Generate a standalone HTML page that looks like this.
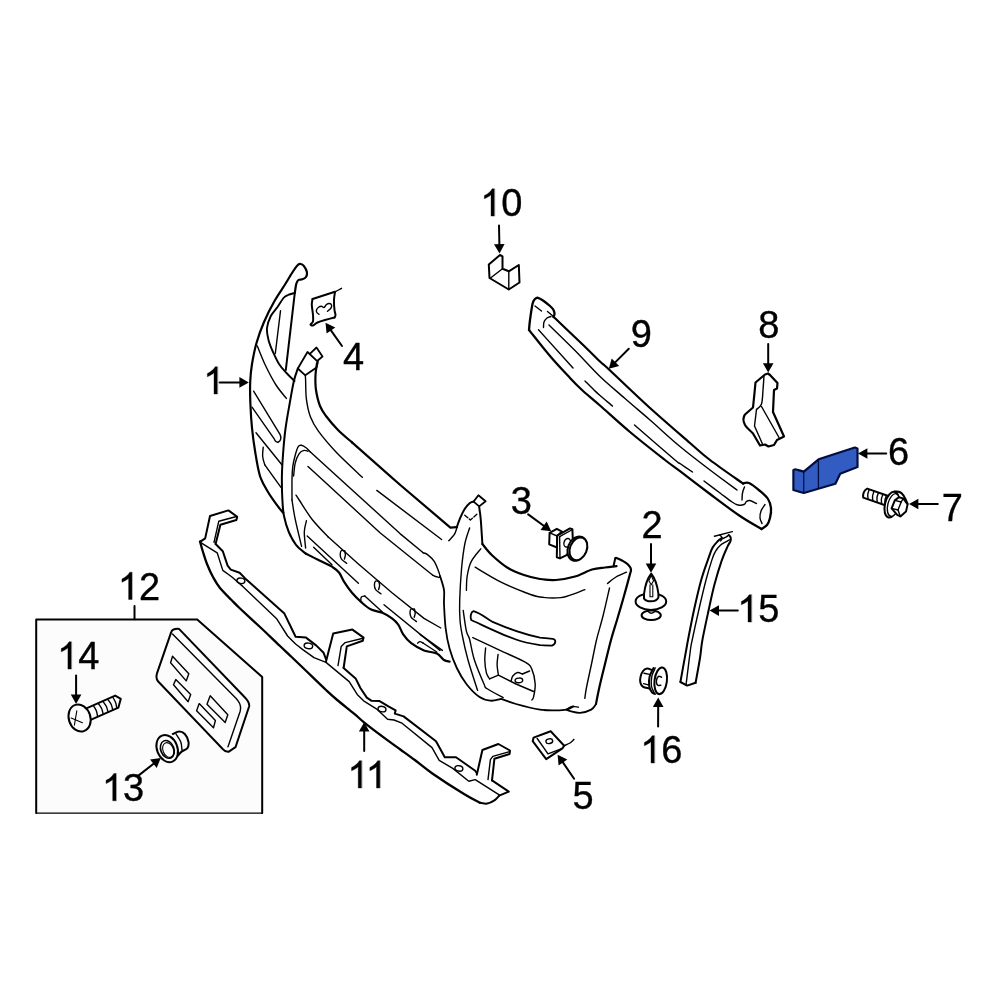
<!DOCTYPE html>
<html><head><meta charset="utf-8"><title>Bumper parts diagram</title>
<style>
html,body{margin:0;padding:0;background:#fff;}
body{width:1000px;height:1000px;overflow:hidden;font-family:"Liberation Sans",sans-serif;}
svg{display:block;}
svg text{font-family:"Liberation Sans",sans-serif;fill:#000;stroke:#000;stroke-width:0.35px;}
svg path,svg ellipse{stroke-linejoin:round;stroke-linecap:round;}
</style></head><body>
<svg width="1000" height="1000" viewBox="0 0 1000 1000">
<defs><filter id="soft" x="0" y="0" width="1000" height="1000" filterUnits="userSpaceOnUse"><feGaussianBlur stdDeviation="0.35"/></filter></defs>
<rect width="1000" height="1000" fill="#fff"/>
<g filter="url(#soft)">
<g id="parts">
<path d="M36.2 813.1 L36.2 619.6 L197.2 619.6 L262.2 677 L262.2 813.1" fill="#fcfcfc" stroke="#000" stroke-width="2" stroke-linejoin="miter" stroke-linecap="square"/>
<path d="M36.2 813.1 L262.2 813.1" fill="none" stroke="#000" stroke-width="1.4" stroke-linecap="square"/>
<path d="M500 255 L488.8 264.5 L489.5 278 L508.8 289.5 L519.5 282.5 L518.8 265 L508.8 271.3 L502.5 268.8 L502.5 256.3Z" fill="none" stroke="#000" stroke-width="2"/>
<path d="M502.5 268.8 L490.5 278" fill="none" stroke="#000" stroke-width="1.4"/>
<path d="M508.8 271.3 L508.8 289.5" fill="none" stroke="#000" stroke-width="1.4"/>
<path d="M793.4 470 L795.4 469.3 L803.8 471.6 L818.6 459.3 L854.8 447.5 L857.5 448.5 L857.5 466.9 L840.2 473.8 L835.4 483.8 L803.8 493 L793.4 490Z" fill="#335bc2" stroke="#06103f" stroke-width="2.2"/>
<path d="M803.7 471.8 L803.7 492.8" fill="none" stroke="#06103f" stroke-width="1.3"/>
<path d="M818.4 459.8 L818.4 488.2" fill="none" stroke="#06103f" stroke-width="1.3"/>
<path d="M768 373.5 L765 374.5 L755.5 382.5 L754.5 393 L753 407.5 L745 414.5 C743.2 417 743.2 421.5 745 425 C747 428.5 750.5 430.5 753 433.5 L760 445.5 L765 444.5 L768.5 446.5 L774 445 L777 440 L784 436.5 L773 412 L774 390 L777 388.5 L777.5 383 L770 375 Z" fill="none" stroke="#000" stroke-width="2.2"/>
<path d="M764 376 C763.8 378.3 763.4 385.3 763 390 C762.6 394.7 762.6 400.8 761.5 404 C760.4 407.2 757.3 408.6 756.5 409.5" fill="none" stroke="#000" stroke-width="1.4"/>
<path d="M756.5 409.5 L754.5 426 L762.5 444" fill="none" stroke="#000" stroke-width="1.4"/>
<path d="M761.5 406.5 L779 437.5" fill="none" stroke="#000" stroke-width="1.4"/>
<path d="M529 330 C529.2 328.3 529.4 324.3 530 320 C530.6 315.7 531.7 307.5 532.5 304 C533.3 300.5 534.1 300 535 299 C535.9 298 536.7 297.6 538 297.8 C539.3 298.1 541 299.1 543 300.5 C545 301.9 548.2 304.4 550 306 C551.8 307.6 552.8 308.7 553.5 310 C554.2 311.3 554.5 312.8 554.5 314 C554.5 315.2 553.7 316.5 553.5 317" fill="none" stroke="#000" stroke-width="2.3"/>
<path d="M553.5 316.8 C557.9 321 572.2 334.6 580 342 C587.8 349.4 595.2 356.9 600 361.5 C604.8 366.1 600.7 361.8 609 369.5 C617.3 377.2 636.5 395.8 650 408 C663.5 420.2 680 434.3 690 443 C700 451.7 701.2 453.2 710 460 C718.8 466.8 737.5 479.6 743 483.5" fill="none" stroke="#000" stroke-width="2.2"/>
<path d="M743 483.5 C744 483.4 746.2 481.8 749 483 C751.8 484.2 756.8 488.3 760 491 C763.2 493.7 766.2 496.2 768 499 C769.8 501.8 770.7 504.8 771 508 C771.3 511.2 770.7 515.2 770 518 C769.3 520.8 768.4 523.2 767 525 C765.6 526.8 762.4 528.3 761.5 529" fill="none" stroke="#000" stroke-width="2.3"/>
<path d="M529 330 C532.5 334.3 543.2 348 550 356 C556.8 364 564.7 372.3 570 378 C575.3 383.7 577 385.4 582 390 C587 394.6 592 398.5 600 405.5 C608 412.5 619.2 422.9 630 432 C640.8 441.1 656.7 453.5 665 460 C673.3 466.5 672.5 465.5 680 471.2 C687.5 476.9 700 486.5 710 494 C720 501.5 731.4 510.2 740 516 C748.6 521.8 757.9 526.8 761.5 529" fill="none" stroke="#000" stroke-width="2.2"/>
<path d="M549 325 C553.3 329.2 566.5 341.9 575 350.5 C583.5 359.1 591.7 368.5 600 376.5 C608.3 384.5 616.7 391.2 625 398.5 C633.3 405.8 640.8 412 650 420 C659.2 428 670 438.2 680 446.5 C690 454.8 700.5 462.8 710 470 C719.5 477.2 732.5 486.7 737 490" fill="none" stroke="#000" stroke-width="1.4"/>
<path d="M538.5 329.8 L573 368" fill="none" stroke="#000" stroke-width="1.4"/>
<path d="M585 381 C586.5 382.5 591.5 387.6 594 390 C596.5 392.4 596.9 392.8 600 395.5 C603.1 398.2 610.4 404.2 612.5 406" fill="none" stroke="#000" stroke-width="1.4"/>
<path d="M634.5 425 C641.2 430.8 667.4 453.6 675 460 C682.6 466.4 677.1 461.5 680 463.5 C682.9 465.5 690.4 470.6 692.5 472" fill="none" stroke="#000" stroke-width="1.4"/>
<path d="M704 481 C706.7 483 715.3 489.5 720 493 C724.7 496.5 729 500 732 502 C735 504 736 504.6 738 505 C740 505.4 742.6 505.1 744 504.5 C745.4 503.9 745.5 502.2 746.5 501.5 C747.5 500.8 748.3 500.2 750 500.5 C751.7 500.8 755.4 503 756.5 503.5" fill="none" stroke="#000" stroke-width="1.4"/>
<path d="M744.5 487 C744.2 488 742.9 490.8 742.5 493 C742.1 495.2 742.1 498.8 742 500" fill="none" stroke="#000" stroke-width="1.4"/>
<path d="M765 504.5 C764.3 505.6 761.8 508.8 761 511 C760.2 513.2 759.8 515.9 760 518 C760.2 520.1 761.7 522.6 762 523.5" fill="none" stroke="#000" stroke-width="1.4"/>
<path d="M535 306 L541.5 311" fill="none" stroke="#000" stroke-width="1.4"/>
<path d="M547.5 311.5 L553.5 316.5" fill="none" stroke="#000" stroke-width="1.4"/>
<path d="M551 316.5 C550.3 316.8 548.2 317.1 547 318 C545.8 318.9 544.6 320.4 544 322 C543.4 323.6 543.6 326.6 543.5 327.5" fill="none" stroke="#000" stroke-width="1.4"/>
<path d="M721.6 538 C721 538.5 719.5 539.4 718 541 C716.5 542.6 714.2 544.7 712.6 547.6 C711 550.5 710.3 553 708.4 558.4 C706.5 563.8 703.6 571.4 701.2 580 C698.8 588.6 696.2 600 694 610 C691.8 620 689.3 633.3 688 640 C686.7 646.7 687.5 643 686.2 650 C684.9 657 681.4 676.7 680.4 682" fill="none" stroke="#000" stroke-width="2"/>
<path d="M680.4 682 L687.2 685.6 L695.6 682.8" fill="none" stroke="#000" stroke-width="2"/>
<path d="M728.8 535 C729.1 535.4 730.3 536.4 730.6 537.4 C730.9 538.4 731.1 539.5 730.6 541 C730.1 542.5 729.1 543.1 727.6 546.4 C726.1 549.7 723.8 554.4 721.6 560.8 C719.4 567.2 716.6 576.4 714.4 584.8 C712.2 593.2 710.4 602 708.4 611.2 C706.4 620.4 703.8 632.2 702.4 640 C701 647.8 701.1 650.9 700 658 C698.9 665.1 696.3 678.7 695.6 682.8" fill="none" stroke="#000" stroke-width="2"/>
<path d="M729.4 539.8 C728.9 540.1 727.9 540.7 726.4 541.6 C724.9 542.5 722.2 543.6 720.4 545.2 C718.6 546.8 717 548.8 715.6 551.2 C714.2 553.6 713.6 554.8 712 559.6 C710.4 564.4 708.2 571.6 706 580 C703.8 588.4 701.1 600 698.8 610 C696.5 620 693.6 633.3 692.2 640 C690.8 646.7 691.4 642.5 690.4 650 C689.4 657.5 686.7 679.3 686 685.2" fill="none" stroke="#000" stroke-width="1.4"/>
<path d="M714.4 536.2 L732.4 531.6" fill="none" stroke="#000" stroke-width="1.4"/>
<path d="M719.8 535 C720.2 535.5 722.1 537 722.2 538 C722.3 539 720.8 540.5 720.5 541" fill="none" stroke="#000" stroke-width="1.4"/>
<path d="M722.8 538.6 C723.4 538.3 725.4 537.4 726.4 536.8 C727.4 536.2 728.4 535.3 728.8 535" fill="none" stroke="#000" stroke-width="1.4"/>
<path d="M533.6 737.6 L550.7 731.3 L564.2 745.7 L562.4 748.4 L546.2 759.2 L532.7 741.2Z" fill="none" stroke="#000" stroke-width="2"/>
<path d="M537.2 738.5 L548 753.8 L562.4 748.4" fill="none" stroke="#000" stroke-width="1.4"/>
<ellipse cx="549.3" cy="741.2" rx="3.4" ry="2.3" transform="rotate(-10 549.3 741.2)" fill="none" stroke="#000" stroke-width="1.4"/>
<path d="M564.2 745.7 C565.2 745.2 568.4 744 570 743 C571.6 742 573.3 740 574 739.4" fill="none" stroke="#000" stroke-width="1.4"/>
<path d="M312.5 299 L335 291.8" fill="none" stroke="#000" stroke-width="2"/>
<path d="M335 292 C334.8 293.3 334.1 297 334 300 C333.9 303 334.2 307.5 334.5 310 C334.8 312.5 335.5 313.8 335.5 315 C335.5 316.2 334.7 317.1 334.5 317.5" fill="none" stroke="#000" stroke-width="2"/>
<path d="M334.5 317.5 C332.9 317.9 327.8 319.2 325 320 C322.2 320.8 319.5 321.6 317.5 322.5 C315.5 323.4 314.2 325.2 313 325.5 C311.8 325.8 310.5 325.2 310.5 324.5 C310.5 323.8 312.6 323.1 313 321.5 C313.4 319.9 313.2 317.8 313 315 C312.8 312.2 311.9 307.7 311.8 305 C311.7 302.3 312.4 300 312.5 299" fill="none" stroke="#000" stroke-width="2"/>
<path d="M335 291.8 C335.6 291.5 337.4 290.6 338.5 290 C339.6 289.4 341 288.6 341.5 288.3" fill="none" stroke="#000" stroke-width="1.4"/>
<path d="M319 314.3 C318.6 314 317.2 313.2 316.8 312.5 C316.4 311.8 316.2 310.9 316.5 310 C316.8 309.1 317.7 307.9 318.5 307.3 C319.3 306.7 320.6 306.3 321.5 306.3 C322.4 306.3 323.2 307.8 324 307.5 C324.8 307.2 325.6 305.2 326.5 304.5 C327.4 303.8 328.7 303.4 329.5 303.5 C330.3 303.6 331.2 304.2 331.5 305 C331.8 305.8 331.7 306.9 331 308 C330.3 309.1 328.1 310.8 327.5 311.3" fill="none" stroke="#000" stroke-width="1.4"/>
<path d="M549.6 532.8 L556.8 528.8 L562 531.6 L557.2 536 L557 547.5 L549.2 544.4Z" fill="none" stroke="#000" stroke-width="2"/>
<path d="M549.6 532.8 L557.2 536" fill="none" stroke="#000" stroke-width="1.4"/>
<path d="M557.2 535.6 L570 528.4 L572.4 529.2 L572.8 540 L567 554.8 L560 558.4 L556.8 557.2Z" fill="#fff" stroke="#000" stroke-width="2"/>
<path d="M559.6 536.6 L571.6 530" fill="none" stroke="#000" stroke-width="1.4"/>
<path d="M559.6 536.6 L560 558" fill="none" stroke="#000" stroke-width="1.4"/>
<ellipse cx="567.2" cy="542.8" rx="3.2" ry="4.4" transform="rotate(15 567.2 542.8)" fill="#fff" stroke="#000" stroke-width="1.4"/>
<ellipse cx="577.2" cy="548.6" rx="9.2" ry="12.6" transform="rotate(22 577.2 548.6)" fill="#fff" stroke="#000" stroke-width="2"/>
<ellipse cx="578.4" cy="548.8" rx="8.4" ry="11.8" transform="rotate(22 578.4 548.8)" fill="#fff" stroke="#000" stroke-width="2"/>
<ellipse cx="651.2" cy="615.2" rx="9.6" ry="4.8" transform="rotate(0 651.2 615.2)" fill="#fff" stroke="#000" stroke-width="2"/>
<ellipse cx="650.9" cy="601.6" rx="15.3" ry="8.3" transform="rotate(0 650.9 601.6)" fill="#fff" stroke="#000" stroke-width="2"/>
<path d="M647.6 611.2 C648.2 611.5 649.8 613.2 651.2 613.2 C652.6 613.2 655.2 611.5 656 611.2" fill="none" stroke="#000" stroke-width="1.4"/>
<path d="M651.2 573.6 C647.6 578 645 586 644 594 L644 598.4 C646 602 656 602.8 658.4 597.6 L658.4 593.6 C657.4 586 654.8 578 651.2 573.6Z" fill="#fff" stroke="#000" stroke-width="2"/>
<path d="M651.2 575.6 L648.8 580.8 L651.2 584.8 L653.6 580.8Z" fill="none" stroke="#000" stroke-width="1.1"/>
<path d="M650 584.8 L650 596.8 L652.8 596.8 L652.8 584.8" fill="none" stroke="#000" stroke-width="1.1"/>
<path d="M652 670 C651.2 669.8 648.7 668.5 647.2 668.6 C645.7 668.7 644.3 669.5 643.2 670.8 C642.1 672.1 641.1 674.4 640.6 676.4 C640.1 678.4 640 681.1 640.4 682.8 C640.8 684.5 641.8 685.9 643.2 686.8 C644.6 687.7 647.9 688.1 648.8 688.4" fill="none" stroke="#000" stroke-width="2"/>
<path d="M644 673.2 L649.6 674.4" fill="none" stroke="#000" stroke-width="1.4"/>
<path d="M643.6 683.6 L649.2 685.2" fill="none" stroke="#000" stroke-width="1.4"/>
<path d="M653.6 668 C652.9 669.4 650.3 673.4 649.6 676.4 C648.9 679.4 648.8 683.3 649.2 686 C649.6 688.7 651 691.1 652 692.4 C653 693.7 654.5 693.7 655 694" fill="none" stroke="#000" stroke-width="2"/>
<path d="M655.2 668 C654.6 669.4 652.4 673.4 651.8 676.4 C651.2 679.4 651 683.2 651.4 686 C651.8 688.8 653.9 692 654.4 693.2" fill="none" stroke="#000" stroke-width="1.4"/>
<ellipse cx="660.7" cy="680.8" rx="6.2" ry="13.4" transform="rotate(7 660.7 680.8)" fill="#fff" stroke="#000" stroke-width="2"/>
<path d="M661.6 677.2 C661.1 677.1 659.3 675.7 658.4 676.4 C657.5 677.1 656.5 679.7 656.4 681.2 C656.3 682.7 656.9 684.5 657.6 685.2 C658.3 685.9 660.3 685.2 660.8 685.2" fill="none" stroke="#000" stroke-width="1.4"/>
<path d="M888.4 496 L867.2 488.6 C864 490 862.6 494.5 863.2 497.6 L885.2 505.2" fill="#fff" stroke="#000" stroke-width="2"/>
<path d="M869.2 489.6 C869 490.4 868 492.7 867.8 494.2 C867.6 495.7 868 498 868 498.8" fill="none" stroke="#000" stroke-width="1.4"/>
<path d="M874 491.2 C873.8 492 872.8 494.4 872.6 496 C872.4 497.6 872.8 500 872.8 500.8" fill="none" stroke="#000" stroke-width="1.4"/>
<path d="M878.4 492.8 C878.2 493.6 877.2 495.9 877 497.4 C876.8 498.9 877.2 501.2 877.2 502" fill="none" stroke="#000" stroke-width="1.4"/>
<path d="M882.8 494.4 C882.6 495.2 881.6 497.5 881.4 499 C881.2 500.5 881.6 502.8 881.6 503.6" fill="none" stroke="#000" stroke-width="1.4"/>
<path d="M886.4 495.6 C886.2 496.4 885.2 498.7 885 500.2 C884.8 501.7 885.2 504 885.2 504.8" fill="none" stroke="#000" stroke-width="1.4"/>
<ellipse cx="891.6" cy="504.6" rx="6.6" ry="13.2" transform="rotate(14 891.6 504.6)" fill="#fff" stroke="#000" stroke-width="2"/>
<ellipse cx="893.4" cy="505" rx="5.6" ry="11.6" transform="rotate(14 893.4 505)" fill="#fff" stroke="#000" stroke-width="1.4"/>
<path d="M894.8 491.6 C895.6 491.7 898.1 491.3 899.6 492 C901.1 492.7 902.3 493.7 903.6 495.6 C904.9 497.5 906.9 502.3 907.6 503.6" fill="none" stroke="#000" stroke-width="2"/>
<path d="M894.8 500.4 L898.8 497.2 L903.2 498.4 L907.6 504.4 L906 511.6 L900.4 516.4 L897.2 514.8 L891.6 508.4Z" fill="#fff" stroke="#000" stroke-width="2"/>
<path d="M894.8 500.4 L901.2 502 L903.2 498.4" fill="none" stroke="#000" stroke-width="1.4"/>
<path d="M901.2 502 L898 510 L891.6 508.4" fill="none" stroke="#000" stroke-width="1.4"/>
<path d="M898 510 L900.4 516.4" fill="none" stroke="#000" stroke-width="1.4"/>
<path d="M86.4 708.4 L115.2 695.6 L120.8 698.8 L118.4 707.6 L91.2 719.6" fill="#fcfcfc" stroke="#000" stroke-width="2"/>
<path d="M93.6 706 C94.1 706.8 95.7 709.2 96.4 710.9 C97.1 712.6 97.4 715.5 97.6 716.4" fill="none" stroke="#000" stroke-width="1.4"/>
<path d="M98.4 703.6 C98.9 704.4 100.8 706.8 101.6 708.5 C102.4 710.2 102.9 713.1 103.2 714" fill="none" stroke="#000" stroke-width="1.4"/>
<path d="M103.2 701.7 C103.7 702.5 105.6 704.8 106.4 706.5 C107.2 708.2 107.7 711 108 711.9" fill="none" stroke="#000" stroke-width="1.4"/>
<path d="M108 699.6 C108.5 700.4 110.4 702.8 111.2 704.5 C112 706.2 112.5 709.1 112.8 710" fill="none" stroke="#000" stroke-width="1.4"/>
<path d="M112.8 697.2 C113.3 698.1 114.9 700.6 115.6 702.5 C116.3 704.4 116.6 707.4 116.8 708.4" fill="none" stroke="#000" stroke-width="1.4"/>
<ellipse cx="79.6" cy="718" rx="10.8" ry="13.8" transform="rotate(-18 79.6 718)" fill="#fcfcfc" stroke="#000" stroke-width="2"/>
<path d="M76.8 710.8 L74.4 725.2" fill="none" stroke="#000" stroke-width="1.1"/>
<path d="M71.2 718 L82.4 722.8" fill="none" stroke="#000" stroke-width="1.1"/>
<path d="M172.8 734 C173.9 733.6 177.2 731.6 179.2 731.6 C181.2 731.6 183.2 732.3 184.8 734 C186.4 735.7 188.1 739.6 188.5 742 C188.9 744.4 188.3 746.8 187.2 748.4 C186 750 183.2 750.3 181.6 751.6 C180 752.9 178.3 755.3 177.6 756" fill="none" stroke="#000" stroke-width="2"/>
<path d="M176 734 C176.8 735.3 179.8 739.3 180.8 742 C181.8 744.7 181.8 748.7 182 750" fill="none" stroke="#000" stroke-width="1.4"/>
<ellipse cx="167.2" cy="748.6" rx="10.2" ry="14" transform="rotate(-22 167.2 748.6)" fill="#fcfcfc" stroke="#000" stroke-width="2"/>
<ellipse cx="167.4" cy="749.4" rx="6.6" ry="9.2" transform="rotate(-22 167.4 749.4)" fill="#fcfcfc" stroke="#000" stroke-width="1.6"/>
<ellipse cx="168.2" cy="750" rx="5.2" ry="7.6" transform="rotate(-22 168.2 750)" fill="none" stroke="#000" stroke-width="1.1"/>
<path d="M171.2 632.1 C172 629.5 174 628.6 179 628.9 L244 696.5 C248.6 701 249.6 703 249.2 706.2 L235.5 747.2 L228.5 751.8 C226 752 224 750.5 222.5 748.8 L158.2 681.5 C156.3 679.5 156 677 156.9 673.7Z" fill="none" stroke="#000" stroke-width="2"/>
<path d="M172.5 634 L236.2 698.4 C240.5 703 241.5 706.5 240.1 711.4 L228 746.8" fill="none" stroke="#000" stroke-width="1.4"/>
<path d="M172.5 656.2 L188.8 673.7 L186.2 680.9 L170.6 662.7Z" fill="none" stroke="#000" stroke-width="1.4"/>
<path d="M175.8 679.6 L190.7 694.5 L188.1 701.7 L173.5 684.8Z" fill="none" stroke="#000" stroke-width="1.4"/>
<path d="M210.2 695.8 L227.8 714.7 L225.2 722.5 L207 704.3Z" fill="none" stroke="#000" stroke-width="1.4"/>
<path d="M199.2 703.6 L215.4 720.5 L213.5 727.7 L196.6 710.8Z" fill="none" stroke="#000" stroke-width="1.4"/>
<path d="M200.4 541.6 L205.2 538.4 L210 516 L228.4 510.4 L237.2 516.8 L236.4 520 L220.4 524.8 L215.6 544" fill="none" stroke="#000" stroke-width="2"/>
<path d="M235.6 516.8 L218.8 521.2 L214 542.4" fill="none" stroke="#000" stroke-width="1.4"/>
<path d="M215.6 544 L222.8 551.2 L227.6 565.6 L230.8 569.6 L239.6 572.8 L245.2 578.4 L284.4 613.6 L295.6 636.8 L306 637.6 L316.4 645.6 L323.6 652.8 L326 659.2" fill="none" stroke="#000" stroke-width="2"/>
<path d="M326 661.6 L333.2 633.6 L352.4 629.6 L363.6 637.6 L362.8 640.8 L346.8 646.4 L343.6 668" fill="none" stroke="#000" stroke-width="2"/>
<path d="M363 638.2 L345.2 642.6 L341.2 646.4 L338 665.6" fill="none" stroke="#000" stroke-width="1.4"/>
<path d="M343.6 668 L355.6 678.4 L360.4 688 L366.8 697.6 L371.6 700.8 L379.6 701.1 L388.4 706.4 L395.6 710.4 L394.8 713.6 L403.6 716.4 L436 741.2 L444.8 757.2 L456 757.2 L475.2 770.8 L476.8 773.2" fill="none" stroke="#000" stroke-width="2"/>
<path d="M476.8 774.8 L482.4 750 L498.4 744 L510 750.5 L509.6 754 L494.4 758.8 L492 780.4" fill="none" stroke="#000" stroke-width="2"/>
<path d="M509.6 751.6 L492.8 756.4 L490.4 759.6 L488 779.6" fill="none" stroke="#000" stroke-width="1.4"/>
<path d="M492 780.4 L508.8 791.6 L499.2 795.6" fill="none" stroke="#000" stroke-width="2"/>
<path d="M499.2 795.6 C498.4 796.4 496.4 799.1 494.4 800.4 C492.4 801.7 489.6 803.2 487.2 803.6 C484.8 804 481.2 802.9 480 802.8" fill="none" stroke="#000" stroke-width="2"/>
<path d="M200 541.5 C200.5 543.2 201.8 548.2 203 552 C204.2 555.8 205.3 559.8 207 564 C208.7 568.2 210.8 573 213 577 C215.2 581 216.9 584.2 220 588 C223.1 591.8 228.2 596.6 231.5 600 C234.8 603.4 235.2 604 240 608.5 C244.8 613 253.3 620.8 260 627 C266.7 633.2 273.3 639.7 280 646 C286.7 652.3 292.3 657.7 300 665 C307.7 672.3 319.8 684.2 326 690 C332.2 695.8 332.5 696.1 337.2 700 C341.9 703.9 349.5 709.9 354 713.6 C358.5 717.3 358.7 718 364 722.3 C369.3 726.6 380 734.7 386 739.2 C392 743.7 395.2 745.7 400 749.2 C404.8 752.7 409.5 756 414.8 760 C420.1 764 423.8 767.5 432 773.2 C440.2 778.9 456 789.1 464 794 C472 798.9 477.3 801.3 480 802.8" fill="none" stroke="#000" stroke-width="2.3"/>
<path d="M200.4 542.4 L217.2 552.8 L222.8 570.4 L231.6 576.8 L242.8 586.4 L276.4 618.4 L287.6 636 L295.6 644 L302.8 649.6 L314 657.6 L326 662.4 L349.2 681.6 L357.2 694.4 L363.6 700.8 L376.4 708.8 L387.6 719.2 L394 720 L402 723.2 L432 747.6 L439.2 760.4 L452.8 768.4 L468.8 781.2 L475.2 779.6 L499.2 794.8" fill="none" stroke="#000" stroke-width="1.4"/>
<ellipse cx="240.9" cy="580.8" rx="4" ry="2.7" transform="rotate(10 240.9 580.8)" fill="none" stroke="#000" stroke-width="1.4"/>
<ellipse cx="308.4" cy="645.9" rx="4.3" ry="2.8" transform="rotate(10 308.4 645.9)" fill="none" stroke="#000" stroke-width="1.4"/>
<ellipse cx="382" cy="709.1" rx="4" ry="2.7" transform="rotate(10 382 709.1)" fill="none" stroke="#000" stroke-width="1.4"/>
<ellipse cx="458.9" cy="768.4" rx="4" ry="2.7" transform="rotate(10 458.9 768.4)" fill="none" stroke="#000" stroke-width="1.4"/>
<path d="M294.8 292.8 C295.1 291.3 295.7 285.9 296.3 283.8 C296.9 281.7 297.5 280.8 298.5 280 C299.5 279.2 301.1 279.8 302.3 279.3 C303.6 278.8 305.2 278.2 306 277 C306.8 275.8 307.2 273.7 306.8 271.8 C306.4 269.9 304.8 267.1 303.8 265.8 C302.8 264.5 301.8 264.1 300.8 264 C299.8 263.9 299.1 263.8 297.8 265 C296.6 266.2 295.4 267.8 293.3 271 C291.2 274.2 288.1 279.5 285 284.5 C281.9 289.5 278 294.8 274.5 301 C271 307.2 267 315 264 322 C261 329 258.5 336 256.5 343 C254.5 350 253.1 357.5 252 364 C250.9 370.5 250.5 375.3 250.2 382 C249.9 388.7 250.1 396.3 250.4 404 C250.7 411.7 251.2 420 252 428 C252.8 436 253.9 444 255.2 452 C256.5 460 257.9 469.3 260 476 C262.1 482.7 265.2 487.2 268 492 C270.8 496.8 274.3 501.3 276.8 504.8 C279.3 508.3 282.1 511.5 283.2 512.8" fill="none" stroke="#000" stroke-width="2.2"/>
<path d="M294.8 292.8 L285.8 370" fill="none" stroke="#000" stroke-width="2"/>
<path d="M294 293.2 C293 293.5 289.8 294.2 288 295 C286.2 295.8 285.2 296 283.5 298 C281.8 300 279.6 304 277.5 307 C275.4 310 272.6 312.5 270.8 316 C269.1 319.5 267.4 324 267 328 C266.6 332 267.5 336 268.5 340 C269.5 344 271.2 348 273 352 C274.8 356 276.8 360.5 279 364 C281.2 367.5 283.9 370.2 286.5 373 C289.1 375.8 293.2 379.7 294.5 381" fill="none" stroke="#000" stroke-width="1.9"/>
<path d="M280.5 310.8 L275.3 353.5" fill="none" stroke="#000" stroke-width="1.4"/>
<path d="M257.3 346 C258.7 349.2 262.4 359 265.5 365.5 C268.6 372 272.5 379.5 276 385 C279.5 390.5 284.7 396.2 286.4 398.4" fill="none" stroke="#000" stroke-width="1.4"/>
<path d="M253.6 391.2 L280 434.4 C281.5 437.5 281 441 278.5 442 C276.5 442.8 275 441 274.4 439.2 L252 407.2" fill="none" stroke="#000" stroke-width="1.4"/>
<path d="M256 432.8 L281.9 464.8" fill="none" stroke="#000" stroke-width="1.4"/>
<path d="M263.2 447.2 C263.1 448.8 262.4 453.9 262.7 456.8 C263 459.7 264.4 463.5 264.8 464.8" fill="none" stroke="#000" stroke-width="1.4"/>
<path d="M264.8 464.8 L280.8 487.2" fill="none" stroke="#000" stroke-width="1.4"/>
<path d="M297.8 368.5 L307.5 352 L318 361.8 L316.5 367.5 L305.3 375.3Z" fill="none" stroke="#000" stroke-width="1.8"/>
<path d="M309.8 353.8 L316.5 347.5 L322.5 356.5 L317.2 361" fill="none" stroke="#000" stroke-width="1.8"/>
<path d="M297.8 368.5 C297.2 370.5 295.4 374.6 294 380.5 C292.6 386.4 291 396.1 289.6 404 C288.2 411.9 286.7 420 285.6 428 C284.5 436 283.8 444 283.2 452 C282.6 460 282 468 281.9 476 C281.8 484 282 493.3 282.4 500 C282.8 506.7 282.9 510.7 284 516 C285.1 521.3 286.8 527.2 288.8 532 C290.8 536.8 293.2 541.2 296 544.8 C298.8 548.4 304 552.1 305.6 553.6" fill="none" stroke="#000" stroke-width="2"/>
<path d="M317 363 C316.8 365 315.7 370.5 315.5 375 C315.3 379.5 315.2 384.8 316 390 C316.8 395.2 318.3 401.7 320 406 C321.7 410.3 323 412 326 416 C329 420 333.7 425.6 338 430 C342.3 434.4 349.7 440.3 352 442.4" fill="none" stroke="#000" stroke-width="2.2"/>
<path d="M352 442.4 L400 484.8 L450.4 527.7 L456.8 527.2" fill="none" stroke="#000" stroke-width="2.2"/>
<path d="M305.3 375.3 C305.4 376.1 305.4 376 305.6 380 C305.8 384 305.6 393.1 306.4 399.2 C307.2 405.3 308.4 411.5 310.4 416.8 C312.4 422.1 314.1 425.3 318.4 431.2 C322.7 437.1 328.7 444.3 336 452 C343.3 459.7 358 473.1 362.4 477.3" fill="none" stroke="#000" stroke-width="1.4"/>
<path d="M292 500 C292 496.5 291.9 484.8 292 479.2 C292.1 473.6 292.3 470.4 292.8 466.4 C293.3 462.4 294.3 458.5 295.2 455.2 C296.1 451.9 297.3 448 298.4 446.4 C299.5 444.8 300.3 445 301.6 445.3 C302.9 445.6 304.9 446.9 306.4 448 C307.9 449.1 309.7 451.3 310.4 452" fill="none" stroke="#000" stroke-width="1.4"/>
<path d="M310.4 452 L400 533.6 L423.2 552.8" fill="none" stroke="#000" stroke-width="1.4"/>
<path d="M293.6 476 C293.9 473.9 294.3 466.9 295.2 463.2 C296.1 459.5 297.7 455.7 299.2 453.6 C300.7 451.5 302.5 450.8 304 450.4 C305.5 450 307.3 451.1 308 451.2" fill="none" stroke="#000" stroke-width="1.4"/>
<path d="M292 500 C292.5 503.2 293.6 511.5 295.2 519.2 C296.8 526.9 300.5 541.9 301.6 546.4" fill="none" stroke="#000" stroke-width="1.4"/>
<path d="M306.4 520.8 C306 522.7 304.4 527.5 304.3 532 C304.2 536.5 305.4 545.3 305.6 548" fill="none" stroke="#000" stroke-width="1.4"/>
<path d="M308 466.4 L380 532.8 L432.8 575.2" fill="none" stroke="#000" stroke-width="1.4"/>
<path d="M423.2 552.8 C423.9 553.1 425.3 552.9 427.2 554.4 C429.1 555.9 432.3 558 434.4 561.6 C436.5 565.2 439.6 573.5 440 576 C440.4 578.5 438 576.9 436.8 576.8 C435.6 576.7 433.5 575.5 432.8 575.2" fill="none" stroke="#000" stroke-width="1.4"/>
<path d="M376.8 490.4 L441.6 539.5" fill="none" stroke="#000" stroke-width="1.4"/>
<path d="M296 495.2 C296.5 496 296.5 496 299.2 500 C301.9 504 307.2 513.1 312 519.2 C316.8 525.3 325.3 533.9 328 536.8" fill="none" stroke="#000" stroke-width="1.4"/>
<path d="M328 536.8 L358.4 564 L392 592.8 L424 618.4 L440.8 628" fill="none" stroke="#000" stroke-width="1.4"/>
<path d="M307.2 536 L358.4 583.2" fill="none" stroke="#000" stroke-width="1.4"/>
<path d="M313.6 547.2 L332 564.8" fill="none" stroke="#000" stroke-width="1.4"/>
<path d="M384 604.8 L440 650.4" fill="none" stroke="#000" stroke-width="1.4"/>
<path d="M305.6 553.6 C308 554.8 315.5 558.5 320 560.8 C324.5 563.1 329.6 565.2 332.8 567.2 C336 569.2 337.3 570.4 339.2 572.8 C341.1 575.2 341.9 578.3 344 581.6 C346.1 584.9 349.1 589.3 352 592.8 C354.9 596.3 358.4 599.6 361.6 602.4 C364.8 605.2 367.7 607.9 371.2 609.6 C374.7 611.3 378.9 611.3 382.4 612.8 C385.9 614.3 389.3 616.4 392 618.4 C394.7 620.4 396.5 622.1 398.4 624.8 C400.3 627.5 401.1 631.3 403.2 634.4 C405.3 637.5 407.7 640.5 411.2 643.2 C414.7 645.9 419.7 648.7 424 650.4 C428.3 652.1 433.5 652 436.8 653.6 C440.1 655.2 441.9 658.7 444 660 C446.1 661.3 448.7 661.3 449.6 661.6" fill="none" stroke="#000" stroke-width="2.2"/>
<path d="M360.8 600.5 C360.9 599.9 360.7 597.8 361.4 597 C362.1 596.2 364.2 596.2 364.8 596" fill="none" stroke="#000" stroke-width="1.4"/>
<path d="M364.8 596 L382.4 612" fill="none" stroke="#000" stroke-width="1.4"/>
<path d="M417.6 643.2 C418 642.9 419.1 641.6 420 641.6 C420.9 641.6 422.5 642.8 423 643" fill="none" stroke="#000" stroke-width="1.4"/>
<path d="M423 643 L436.8 652" fill="none" stroke="#000" stroke-width="1.4"/>
<path d="M344.7 551 C344.1 550.9 342.1 549.9 341.4 550.5 C340.6 551.1 340.2 553.1 340.2 554.5 C340.2 555.9 340.7 557.8 341.4 559 C342.1 560.2 343.3 560.8 344.2 561.5 C345.1 562.2 346.3 563 346.7 563.3" fill="none" stroke="#000" stroke-width="1.4"/>
<path d="M344.7 551 C344.8 551.7 345.4 553.7 345.4 555 C345.3 556.3 344.6 558.3 344.4 559" fill="none" stroke="#000" stroke-width="1.4"/>
<path d="M378.9 581.5 C378.3 581.4 376.3 580.4 375.6 581 C374.8 581.6 374.4 583.6 374.4 585 C374.4 586.4 374.9 588.3 375.6 589.5 C376.3 590.7 377.5 591.3 378.4 592 C379.3 592.7 380.5 593.5 380.9 593.8" fill="none" stroke="#000" stroke-width="1.4"/>
<path d="M378.9 581.5 C379 582.2 379.6 584.2 379.6 585.5 C379.5 586.8 378.8 588.8 378.6 589.5" fill="none" stroke="#000" stroke-width="1.4"/>
<path d="M414.5 609.3 C413.9 609.2 411.9 608.2 411.2 608.8 C410.4 609.4 410 611.4 410 612.8 C410 614.2 410.5 616.1 411.2 617.3 C411.9 618.5 413.1 619.1 414 619.8 C414.9 620.5 416.1 621.3 416.5 621.6" fill="none" stroke="#000" stroke-width="1.4"/>
<path d="M414.5 609.3 C414.6 610 415.2 612 415.2 613.3 C415.1 614.6 414.4 616.6 414.2 617.3" fill="none" stroke="#000" stroke-width="1.4"/>
<path d="M456.8 527.2 C457.3 525.7 458.7 521.5 460 518.4 C461.3 515.3 463.2 511.3 464.8 508.8 C466.4 506.3 468.1 504.4 469.6 503.2 C471.1 502 472.9 501.9 473.6 501.6" fill="none" stroke="#000" stroke-width="2"/>
<path d="M473.6 501.6 L478.4 495.2 L485.6 501.3 L479.2 506.4Z" fill="none" stroke="#000" stroke-width="1.8"/>
<path d="M479.2 507.2 C479.5 509.3 480.3 513.9 480.8 520 C481.3 526.1 482.1 540 482.4 544" fill="none" stroke="#000" stroke-width="2"/>
<path d="M464.8 515.2 L470.4 520 L477.6 513.6" fill="none" stroke="#000" stroke-width="1.4" stroke-dasharray="4 2"/>
<path d="M448.8 540.8 C449.7 539.7 453.1 536.5 454.4 534.4 C455.7 532.3 456.4 529.1 456.8 528" fill="none" stroke="#000" stroke-width="1.4"/>
<path d="M469.6 528 C468.8 530.7 466.1 537.3 464.8 544 C463.5 550.7 462.5 558.7 461.6 568 C460.8 577.3 460 591.3 459.7 600 C459.4 608.7 459.6 614 460 620 C460.4 626 461.1 629.3 462.4 636 C463.7 642.7 465.5 650.9 468 660 C470.5 669.1 476 685.3 477.6 690.4" fill="none" stroke="#000" stroke-width="1.4"/>
<path d="M480.8 548.8 C479.2 550.9 473.5 557.1 471.2 561.6 C468.9 566.1 468 571.2 467.2 576 C466.4 580.8 466.5 588 466.4 590.4" fill="none" stroke="#000" stroke-width="1.4"/>
<path d="M463.2 610.4 C463.7 613.9 465.3 626.4 466.4 631.2 C467.5 636 468.3 634.4 469.6 639.2 C470.9 644 472 652.5 474.4 660 C476.8 667.5 481.9 679.2 484 684 C486.1 688.8 484 686.5 487.2 688.8 C490.4 691.1 500.5 696.1 503.2 697.6" fill="none" stroke="#000" stroke-width="1.4"/>
<path d="M440 576 C440.7 578.3 443.3 585.3 444 590 C444.7 594.7 443.7 597.7 444 604 C444.3 610.3 444.7 620.5 445.6 628 C446.5 635.5 447.7 642.1 449.6 648.8 C451.5 655.5 454 662.1 456.8 668 C459.6 673.9 462.7 679.2 466.4 684 C470.1 688.8 475.2 694 479.2 696.8 C483.2 699.6 486.7 700.4 490.4 700.7 C494.1 701.1 499.4 699.2 501.2 698.9" fill="none" stroke="#000" stroke-width="1.8"/>
<path d="M420 634.4 L442.4 650.4" fill="none" stroke="#000" stroke-width="1.4"/>
<path d="M482.4 544 C484 545.9 487.7 551.2 492 555.2 C496.3 559.2 502.7 564.7 508 568 C513.3 571.3 518.7 573.2 524 575 C529.3 576.8 534.7 578.2 540 579 C545.3 579.8 550.2 580.4 556 580 C561.8 579.6 569 578.2 575 576.5 C581 574.8 587 571 592 569.5 C597 568 600.9 568 605 567.5 C609.1 567 614.6 566.4 616.5 566.2" fill="none" stroke="#000" stroke-width="2.2"/>
<path d="M613.5 566.2 L615.2 558.5" fill="none" stroke="#000" stroke-width="2"/>
<path d="M615.2 558.5 C615.4 558.4 615.4 557.7 616.5 558 C617.6 558.3 620.1 559.4 622 560.5 C623.9 561.6 626.5 563 628 564.5 C629.5 566 630.7 567.9 631 569.5 C631.3 571.1 630.2 573.2 630 574" fill="none" stroke="#000" stroke-width="2.2"/>
<path d="M630 574 C629 577.7 626.2 588.3 624 596 C621.8 603.7 619.2 612.7 617 620 C614.8 627.3 613 632.7 611 640 C609 647.3 607 656 605 664 C603 672 600.7 681.3 599.2 688 C597.7 694.7 596.5 701.3 596 704" fill="none" stroke="#000" stroke-width="2.2"/>
<path d="M596 704 C595.2 704.9 593.9 708.1 591.2 709.6 C588.5 711.1 583.5 712.5 580 712.8 C576.5 713.1 572.7 711.7 570.4 711.2 C568.1 710.7 567.1 709.9 566.4 709.6" fill="none" stroke="#000" stroke-width="1.8"/>
<path d="M566.4 709.6 C567.3 709.1 570 706.8 572 706.4 C574 706 577.3 707.1 578.4 707.2" fill="none" stroke="#000" stroke-width="1.4"/>
<path d="M501.2 698.9 C503.7 699.8 509.5 702.2 516 704 C522.5 705.8 533.3 708.5 540 709.6 C546.7 710.7 551.6 710.4 556 710.4 C560.4 710.4 563.5 710.3 566.4 709.6 C569.3 708.9 572.4 706.9 573.6 706.4" fill="none" stroke="#000" stroke-width="1.8"/>
<path d="M626.5 572.2 C624.8 573 619.2 575.1 616 577 C612.8 578.9 608.9 582.4 607.5 583.5" fill="none" stroke="#000" stroke-width="1.4"/>
<path d="M609.5 588 C608.4 592.7 605.2 607.3 603 616 C600.8 624.7 598.4 632 596.5 640 C594.6 648 593.2 656 591.5 664 C589.8 672 587.5 682.3 586.4 688 C585.3 693.7 585.1 696.7 584.8 698.4" fill="none" stroke="#000" stroke-width="1.4"/>
<path d="M475.2 567.2 C479.3 569.6 491.9 577.5 500 581.6 C508.1 585.7 517.3 589.4 524 592 C530.7 594.6 533.9 596.1 540 597 C546.1 597.9 554.7 598.3 560.8 597.6 C566.9 596.9 572.8 594.1 576.8 592.8 C580.8 591.5 583.5 590.1 584.8 589.6" fill="none" stroke="#000" stroke-width="1.4"/>
<path d="M471.2 620 C470 616 471 612 473.6 611.2 C480 613 486 618 492 621.6 C510 629.5 525 634.5 540 637.6 L552.8 638.9 C556 639.5 556.5 643.5 552 645.6 L540 645.2 C530 643.5 520 641 516 639.5 C506 636 498 632.5 492 629.6 C484 626 478 623 471.2 620Z" fill="none" stroke="#000" stroke-width="1.8"/>
<path d="M472.8 637.6 C477.3 639.7 491.2 646.3 500 650.4 C508.8 654.5 520.3 659.2 525.6 662.4 C530.9 665.6 530.4 666 532 669.6 C533.6 673.2 534.9 679.5 535.2 684 C535.5 688.5 534.2 694.1 533.6 696.8 C533 699.5 532.1 699.5 531.8 700" fill="none" stroke="#000" stroke-width="1.4"/>
<path d="M485.6 648 C485.5 650 484.7 655.9 484.8 660 C484.9 664.1 485.6 669.6 486.4 672.8 C487.2 675.9 489.1 677.9 489.6 678.9" fill="none" stroke="#000" stroke-width="1.4"/>
<path d="M489.6 678.9 L498.4 675.2" fill="none" stroke="#000" stroke-width="1.4"/>
<path d="M498.4 675.2 C498.2 673.5 497.2 668.3 497.1 664.8 C497.1 661.3 497.9 656.1 498.1 654.4" fill="none" stroke="#000" stroke-width="1.4"/>
<path d="M498.4 675.2 L516 684 L533.6 691.5" fill="none" stroke="#000" stroke-width="1.4"/>
<path d="M511.2 680.8 C511.5 680 511.7 677.4 512.8 676 C513.9 674.6 516 672.8 517.6 672.5 C519.2 672.2 521.6 673.8 522.4 674" fill="none" stroke="#000" stroke-width="1.4"/>
<path d="M522.4 674 L529.6 671" fill="none" stroke="#000" stroke-width="1.4"/>
<ellipse cx="518.9" cy="680.4" rx="3.8" ry="2.3" transform="rotate(-5 518.9 680.4)" fill="none" stroke="#000" stroke-width="1.4"/>
</g>
<g id="arrows">
<path d="M499 225.5 L499.4 245.1" fill="none" stroke="#000" stroke-width="2"/>
<path d="M499.5 253.5 L494 244.2 L504.6 244Z" fill="#000" stroke="none"/>
<path d="M342 346 L330.4 329.6" fill="none" stroke="#000" stroke-width="2"/>
<path d="M325.5 322.8 L335.3 327.4 L326.6 333.5Z" fill="#000" stroke="none"/>
<path d="M219.6 382.4 L240.4 382.4" fill="none" stroke="#000" stroke-width="2"/>
<path d="M248.8 382.4 L239.4 387.7 L239.4 377.1Z" fill="#000" stroke="none"/>
<path d="M628.8 348.8 L614.7 362.9" fill="none" stroke="#000" stroke-width="2"/>
<path d="M608.8 368.8 L611.7 358.4 L619.2 365.9Z" fill="#000" stroke="none"/>
<path d="M768.2 344 L768.2 364.2" fill="none" stroke="#000" stroke-width="2"/>
<path d="M768.2 372.6 L762.9 363.2 L773.5 363.2Z" fill="#000" stroke="none"/>
<path d="M886.2 453.5 L866.4 453.5" fill="none" stroke="#000" stroke-width="2"/>
<path d="M858 453.5 L867.4 448.2 L867.4 458.8Z" fill="#000" stroke="none"/>
<path d="M937.8 504 L917.4 504" fill="none" stroke="#000" stroke-width="2"/>
<path d="M909 504 L918.4 498.7 L918.4 509.3Z" fill="#000" stroke="none"/>
<path d="M528.2 514.4 L544.4 526.2" fill="none" stroke="#000" stroke-width="2"/>
<path d="M551.2 531.2 L540.5 529.9 L546.7 521.4Z" fill="#000" stroke="none"/>
<path d="M651 544 L651 564.4" fill="none" stroke="#000" stroke-width="2"/>
<path d="M651 572.8 L645.7 563.4 L656.3 563.4Z" fill="#000" stroke="none"/>
<path d="M737.8 610.6 L718 610.6" fill="none" stroke="#000" stroke-width="2"/>
<path d="M709.6 610.6 L719 605.3 L719 615.9Z" fill="#000" stroke="none"/>
<path d="M658.1 726.4 L658.2 706" fill="none" stroke="#000" stroke-width="2"/>
<path d="M658.2 697.6 L663.5 707 L652.9 707Z" fill="#000" stroke="none"/>
<path d="M574.1 778.7 L562.4 761.6" fill="none" stroke="#000" stroke-width="2"/>
<path d="M557.6 754.7 L567.3 759.4 L558.6 765.4Z" fill="#000" stroke="none"/>
<path d="M364.2 751 L364.2 730.6" fill="none" stroke="#000" stroke-width="2"/>
<path d="M364.2 722.2 L369.5 731.6 L358.9 731.6Z" fill="#000" stroke="none"/>
<path d="M134.5 606 L134.5 619.2" fill="none" stroke="#000" stroke-width="2"/>
<path d="M76.1 675.5 L76.1 695.6" fill="none" stroke="#000" stroke-width="2"/>
<path d="M76.1 704 L70.8 694.6 L81.4 694.6Z" fill="#000" stroke="none"/>
<path d="M138.4 775.6 L154.2 763.2" fill="none" stroke="#000" stroke-width="2"/>
<path d="M160.8 758 L156.7 768 L150.1 759.6Z" fill="#000" stroke="none"/>
</g>
<g id="labels">
<g id="lab10"><path d="M763 0H583V1147Q518 1085 412.5 1023T223 930V1104Q373 1174.5 485 1275T644 1470H763Z" transform="translate(480.2 216.1) scale(0.01855 -0.01855)" fill="#000" stroke="#000" stroke-width="19"/><text x="501.3" y="216.1" font-size="38">0</text></g>
<g id="lab4"><text x="343.1" y="370.4" font-size="38">4</text></g>
<g id="lab1"><path d="M763 0H583V1147Q518 1085 412.5 1023T223 930V1104Q373 1174.5 485 1275T644 1470H763Z" transform="translate(203.2 394) scale(0.01855 -0.01855)" fill="#000" stroke="#000" stroke-width="19"/></g>
<g id="lab9"><text x="630.8" y="346.6" font-size="38">9</text></g>
<g id="lab8"><text x="758.2" y="337.7" font-size="38">8</text></g>
<g id="lab6"><text x="888.1" y="465.2" font-size="38">6</text></g>
<g id="lab7"><text x="941.7" y="520.5" font-size="38">7</text></g>
<g id="lab3"><text x="510.8" y="513.8" font-size="38">3</text></g>
<g id="lab2"><text x="641.6" y="537.9" font-size="38">2</text></g>
<g id="lab15"><path d="M763 0H583V1147Q518 1085 412.5 1023T223 930V1104Q373 1174.5 485 1275T644 1470H763Z" transform="translate(737.2 622) scale(0.01855 -0.01855)" fill="#000" stroke="#000" stroke-width="19"/><text x="758.3" y="622" font-size="38">5</text></g>
<g id="lab16"><path d="M763 0H583V1147Q518 1085 412.5 1023T223 930V1104Q373 1174.5 485 1275T644 1470H763Z" transform="translate(640.2 763) scale(0.01855 -0.01855)" fill="#000" stroke="#000" stroke-width="19"/><text x="661.3" y="763" font-size="38">6</text></g>
<g id="lab5"><text x="572.6" y="808.5" font-size="38">5</text></g>
<g id="lab11"><path d="M763 0H583V1147Q518 1085 412.5 1023T223 930V1104Q373 1174.5 485 1275T644 1470H763Z" transform="translate(347.4 788) scale(0.01855 -0.01855)" fill="#000" stroke="#000" stroke-width="19"/><path d="M763 0H583V1147Q518 1085 412.5 1023T223 930V1104Q373 1174.5 485 1275T644 1470H763Z" transform="translate(365.7 788) scale(0.01855 -0.01855)" fill="#000" stroke="#000" stroke-width="19"/></g>
<g id="lab12"><path d="M763 0H583V1147Q518 1085 412.5 1023T223 930V1104Q373 1174.5 485 1275T644 1470H763Z" transform="translate(117.8 599.5) scale(0.01855 -0.01855)" fill="#000" stroke="#000" stroke-width="19"/><text x="138.9" y="599.5" font-size="38">2</text></g>
<g id="lab14"><path d="M763 0H583V1147Q518 1085 412.5 1023T223 930V1104Q373 1174.5 485 1275T644 1470H763Z" transform="translate(57.1 669.1) scale(0.01855 -0.01855)" fill="#000" stroke="#000" stroke-width="19"/><text x="78.2" y="669.1" font-size="38">4</text></g>
<g id="lab13"><path d="M763 0H583V1147Q518 1085 412.5 1023T223 930V1104Q373 1174.5 485 1275T644 1470H763Z" transform="translate(101.9 800.8) scale(0.01855 -0.01855)" fill="#000" stroke="#000" stroke-width="19"/><text x="123" y="800.8" font-size="38">3</text></g>
</g>
</g>
</svg>
</body></html>
